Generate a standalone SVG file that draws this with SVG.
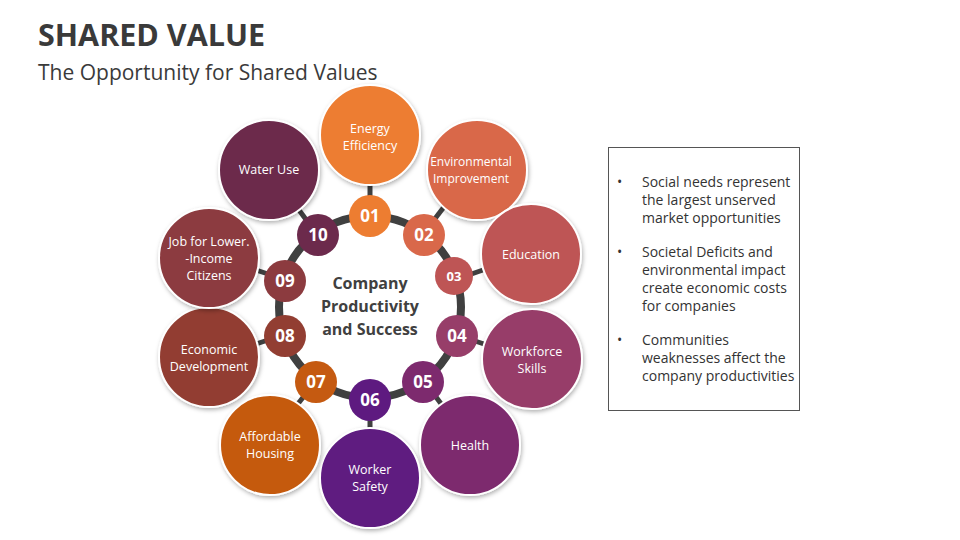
<svg xmlns="http://www.w3.org/2000/svg" width="960" height="540" viewBox="0 0 960 540">
<style>
text{font-family:"Open Sans","Liberation Sans",sans-serif}
.big{stroke:#fff;stroke-width:2}
.bl{fill:#fff;font-size:12.5px;text-anchor:middle}
.sl{fill:#fff;font-size:17px;font-weight:bold;text-anchor:middle}
.st{stroke:#404040;stroke-width:5}
.bt{font-size:14px;fill:#333}
</style>
<defs><filter id="sh" x="-20%" y="-20%" width="140%" height="140%"><feDropShadow dx="1" dy="2" stdDeviation="2" flood-opacity="0.3"/></filter></defs>
<rect width="960" height="540" fill="#fff"/>
<text x="38" y="46" font-size="31" font-weight="bold" fill="#3a3a3a" textLength="227" lengthAdjust="spacingAndGlyphs">SHARED VALUE</text>
<text x="38" y="80" font-size="21" fill="#3a3a3a">The Opportunity for Shared Values</text>
<g id="connectors">
<circle cx="370" cy="307" r="91" fill="none" stroke="#404040" stroke-width="8"/>
<line class="st" x1="370" y1="185" x2="370" y2="216"/>
<line class="st" x1="424" y1="233" x2="447" y2="203"/>
<line class="st" x1="457" y1="279" x2="483" y2="270"/>
<line class="st" x1="457" y1="335" x2="484" y2="344"/>
<line class="st" x1="424" y1="381" x2="442" y2="405"/>
<line class="st" x1="370" y1="398" x2="370" y2="428"/>
<line class="st" x1="316" y1="381" x2="297" y2="405"/>
<line class="st" x1="283" y1="335" x2="256" y2="344"/>
<line class="st" x1="283" y1="279" x2="256" y2="270"/>
<line class="st" x1="316" y1="233" x2="296" y2="206"/>
</g>
<g id="center"><text x="370" y="289" font-size="16" font-weight="bold" fill="#404040" text-anchor="middle">Company</text><text x="370" y="312" font-size="16" font-weight="bold" fill="#404040" text-anchor="middle">Productivity</text><text x="370" y="335" font-size="16" font-weight="bold" fill="#404040" text-anchor="middle">and Success</text></g>
<g id="n01"><circle class="big" filter="url(#sh)" cx="370" cy="135" r="50" fill="#ED7D31"/><text class="bl" x="370" y="133">Energy</text><text class="bl" x="370" y="150">Efficiency</text><circle cx="370" cy="216" r="21" fill="#ED7D31"/><text class="sl" x="370" y="222">01</text></g>
<g id="n02"><circle class="big" filter="url(#sh)" cx="477" cy="170" r="50" fill="#D9684A"/><text class="bl" x="471" y="166" style="font-size:12px">Environmental</text><text class="bl" x="471" y="183" style="font-size:12px">Improvement</text><circle cx="424" cy="235" r="21" fill="#D9684A"/><text class="sl" x="424" y="241">02</text></g>
<g id="n03"><circle class="big" filter="url(#sh)" cx="531" cy="254" r="50" fill="#BE5555"/><text class="bl" x="531" y="259">Education</text><circle cx="454" cy="276" r="19" fill="#BE5555"/><text class="sl" x="454" y="281" style="font-size:13px">03</text></g>
<g id="n04"><circle class="big" filter="url(#sh)" cx="532" cy="359" r="50" fill="#973E69"/><text class="bl" x="532" y="356">Workforce</text><text class="bl" x="532" y="373">Skills</text><circle cx="457" cy="336" r="21" fill="#973E69"/><text class="sl" x="457" y="342">04</text></g>
<g id="n05"><circle class="big" filter="url(#sh)" cx="470" cy="445" r="50" fill="#7D2A6E"/><text class="bl" x="470" y="450">Health</text><circle cx="423" cy="382" r="21" fill="#7D2A6E"/><text class="sl" x="423" y="388">05</text></g>
<g id="n06"><circle class="big" filter="url(#sh)" cx="370" cy="478" r="50" fill="#5E1A80"/><text class="bl" x="370" y="474">Worker</text><text class="bl" x="370" y="491">Safety</text><circle cx="370" cy="400" r="21" fill="#5E1A80"/><text class="sl" x="370" y="406">06</text></g>
<g id="n07"><circle class="big" filter="url(#sh)" cx="270" cy="445" r="50" fill="#C55A11"/><text class="bl" x="270" y="441">Affordable</text><text class="bl" x="270" y="458">Housing</text><circle cx="316" cy="382" r="21" fill="#C55A11"/><text class="sl" x="316" y="388">07</text></g>
<g id="n08"><circle class="big" filter="url(#sh)" cx="209" cy="357" r="50" fill="#923E32"/><text class="bl" x="209" y="354">Economic</text><text class="bl" x="209" y="371">Development</text><circle cx="285" cy="336" r="21" fill="#923E32"/><text class="sl" x="285" y="342">08</text></g>
<g id="n09"><circle class="big" filter="url(#sh)" cx="209" cy="258" r="50" fill="#8C3B3F"/><text class="bl" x="209" y="246">Job for Lower.</text><text class="bl" x="209" y="263">-Income</text><text class="bl" x="209" y="280">Citizens</text><circle cx="285" cy="281" r="21" fill="#8C3B3F"/><text class="sl" x="285" y="287">09</text></g>
<g id="n10"><circle class="big" filter="url(#sh)" cx="269" cy="170" r="50" fill="#6C2A4C"/><text class="bl" x="269" y="174">Water Use</text><circle cx="318" cy="235" r="21" fill="#6C2A4C"/><text class="sl" x="318" y="241">10</text></g>
<g id="textbox"><rect x="608.5" y="147.5" width="191" height="263" fill="#fff" stroke="#555"/>
<text class="bt" x="617" y="187">•</text><text class="bt" x="642" y="187">Social needs represent</text><text class="bt" x="642" y="205">the largest unserved</text><text class="bt" x="642" y="223">market opportunities</text>
<text class="bt" x="617" y="257">•</text><text class="bt" x="642" y="257">Societal Deficits and</text><text class="bt" x="642" y="275">environmental impact</text><text class="bt" x="642" y="293">create economic costs</text><text class="bt" x="642" y="311">for companies</text>
<text class="bt" x="617" y="345">•</text><text class="bt" x="642" y="345">Communities</text><text class="bt" x="642" y="363">weaknesses affect the</text><text class="bt" x="642" y="381">company productivities</text></g>
</svg>
